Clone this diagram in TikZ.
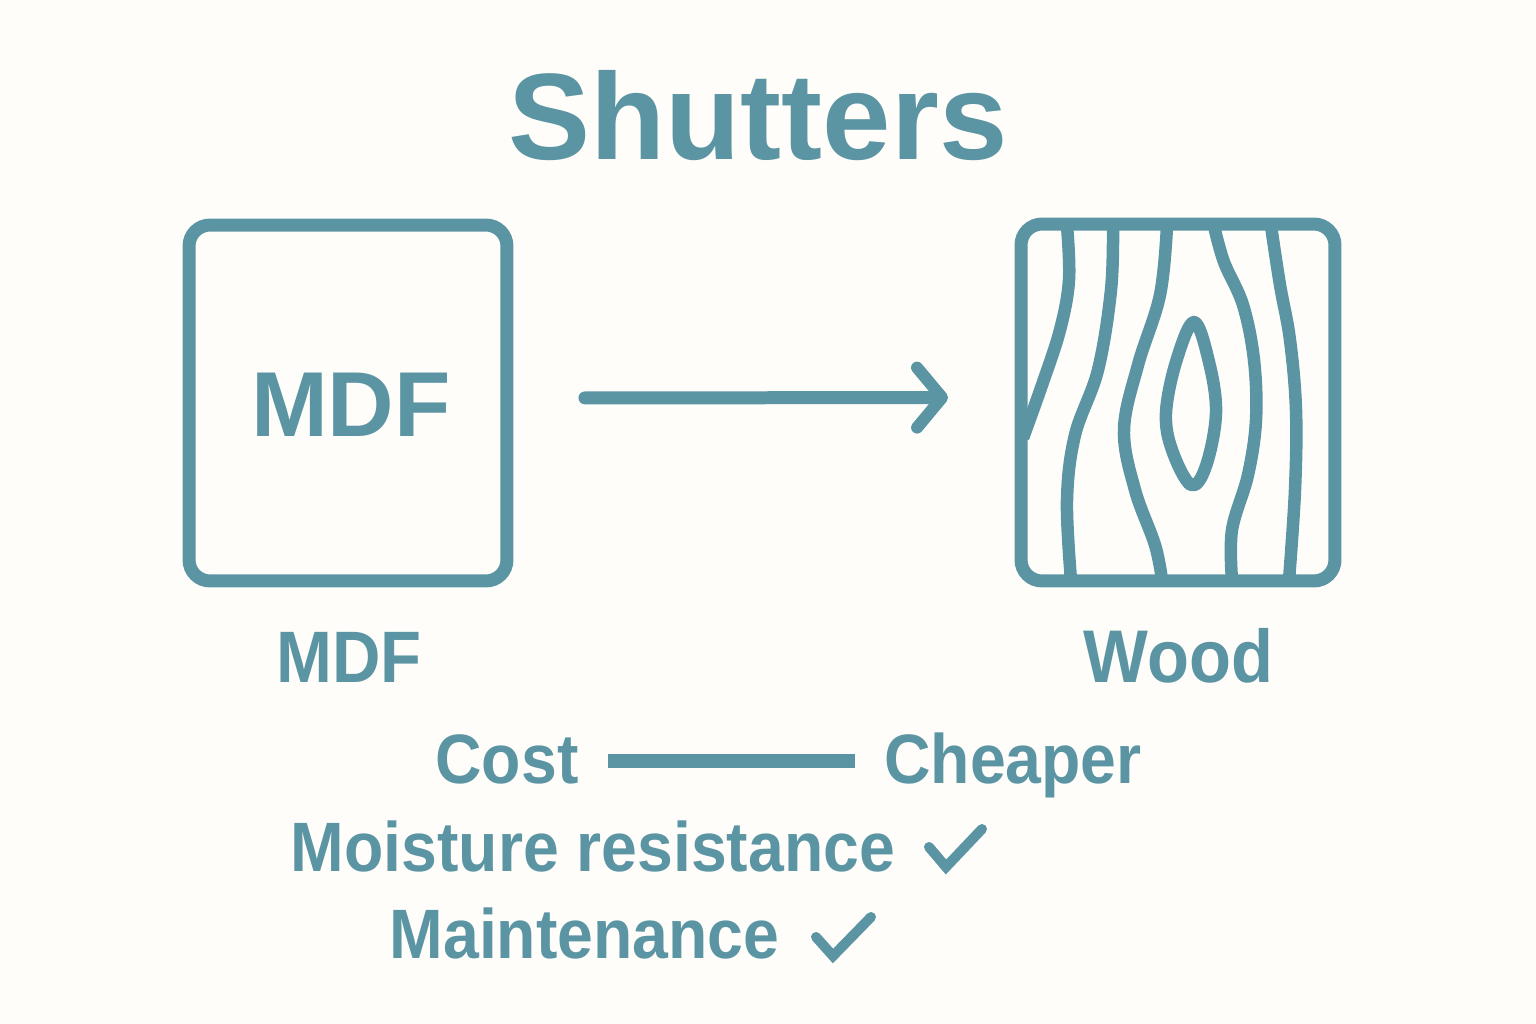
\documentclass[tikz,border=0pt]{standalone}
\usepackage{fontspec}
\setmainfont{Liberation Sans}
\newfontfamily\wordfont[FakeStretch=0.92]{Liberation Sans}
\definecolor{teal1}{HTML}{5B95A3}
\definecolor{paper}{HTML}{FFFDFA}
\usetikzlibrary{arrows.meta}
\tikzset{
  panel/.style={draw=teal1, line width=0.26cm, rounded corners=0.42cm, outer sep=0pt, inner sep=0pt},
  word/.style={text=teal1, font=\wordfont\bfseries\fontsize{39.8}{42}\selectfont, anchor=base, inner sep=0pt, text height=25pt, text depth=0pt},
  grain/.style={draw=teal1, line width=0.25cm, line join=round, tension=0.6},
  tick/.style={draw=teal1, line width=0.2cm, line join=miter, line cap=round},
}
\begin{document}
\begin{tikzpicture}[x=0.02cm, y=-0.02cm]
  \useasboundingbox (0,0) rectangle (1536,1024);
  \fill[paper] (0,0) rectangle (1536,1024);

  \node [word, font=\bfseries\fontsize{70}{78}\selectfont, text height=50pt] (title) at (758,160) {Shutters};

  \node [panel, minimum width=6.36cm, minimum height=7.12cm] (mdfbox) at (348,403) {};
  \node [panel, minimum width=6.28cm, minimum height=7.14cm] (woodbox) at (1178,402.5) {};
  \node [word, font=\bfseries\fontsize{52.5}{56}\selectfont] (mdfinner) at (351,436) {MDF};
  \node [word, font=\wordfont\bfseries\fontsize{41.5}{44}\selectfont] (mdflabel) at (349,682) {MDF};
  \node [word, font=\wordfont\bfseries\fontsize{42.5}{44}\selectfont] (woodlabel) at (1178.5,682) {Wood};

  \draw [draw=teal1, line width=0.26cm, line cap=round, shorten <=1.56cm, shorten >=1.46cm,
    -{Straight Barb[length=0.5cm, width=1.2cm, round, line width=0.24cm]}]
    ([yshift=0.1cm]mdfbox.east) -- ([yshift=0.1cm]woodbox.west);

  \draw [grain] plot [smooth] coordinates {(1067,226) (1069,280) (1060,330) (1042,385) (1023,438)};
  \draw [grain] plot [smooth] coordinates {(1113,226) (1111,290) (1098,370) (1075,435) (1067,500) (1071,580)};
  \draw [grain] plot [smooth] coordinates {(1167,226) (1160,295) (1138,365) (1124,430) (1135,490) (1155,545) (1162,580)};
  \draw [grain] plot [smooth] coordinates {(1214,226) (1224,262) (1243,305) (1254,360) (1256,420) (1248,475) (1232,530) (1232,580)};
  \draw [grain] plot [smooth] coordinates {(1271,226) (1280,285) (1290,340) (1296,410) (1295,490) (1289,580)};
  \draw [grain] plot [smooth cycle] coordinates {(1194,322) (1176,362) (1166,413) (1172,450) (1191,485) (1206,466) (1216,413) (1209,362)};

  \node [word] (cost) at (507,783) {Cost};
  \node [word] (cheaper) at (1013,783) {Cheaper};
  \draw [draw=teal1, line width=0.28cm, shorten <=0.58cm, shorten >=0.58cm] (cost) -- (cheaper);

  \node [word] (moisture) at (593,871) {Moisture resistance};
  \node [word] (upkeep) at (584.5,958) {Maintenance};
  \draw [tick] (929,847) -- (946,867) -- (982,829);
  \draw [tick] (816,937) -- (833,956) -- (871,917);
\end{tikzpicture}
\end{document}
